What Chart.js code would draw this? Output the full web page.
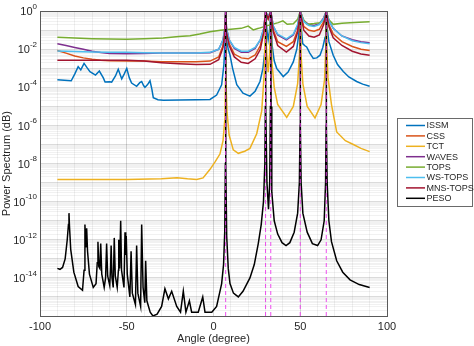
<!DOCTYPE html>
<html>
<head>
<meta charset="UTF-8">
<title>Power Spectrum vs Angle</title>
<script src="https://cdn.jsdelivr.net/npm/chart.js"></script>
<style>
  body { margin: 0; background: #fff; }
  canvas { display: block; }
</style>
</head>
<body>
<canvas id="specChart" width="474" height="346"></canvas>
<script>
// series names and MATLAB default colours
const seriesNames = ['ISSM', 'CSS', 'TCT', 'WAVES', 'TOPS', 'WS-TOPS', 'MNS-TOPS', 'PESO'];
const seriesColors = ['#0072BD', '#D95319', '#EDB120', '#7E2F8E', '#77AC30', '#4DBEEE', '#A2142F', '#000000'];
// true source angles (dashed magenta lines)
const trueAngles = [7, 30, 33, 50, 65];
// y tick labels: only even decades get a label (10^e)
const yLabelExps = [0, -2, -4, -6, -8, -10, -12, -14];
const xLabelValues = [-100, -50, 0, 50, 100];

// each point: [angle (degree), log10 of power]
const issm = [[-90,-3.6],[-86,-3.62],[-82,-3.65],[-80,-3.3],[-78,-2.91],[-76.5,-3.08],[-74.6,-2.74],[-73,-2.95],[-71.2,-3.17],[-68,-3.35],[-65.8,-3.14],[-63.5,-3.5],[-62.5,-3.72],[-60,-3.7],[-58.7,-3.72],[-56.5,-3.4],[-54.9,-3.05],[-53.5,-3.4],[-52.9,-3.55],[-51.5,-3.3],[-50,-3.0],[-48.5,-3.5],[-47.2,-3.77],[-44.3,-3.94],[-42.5,-3.75],[-41.4,-3.69],[-40.3,-3.9],[-39.5,-4.0],[-38,-3.85],[-36.6,-3.65],[-35.5,-4.1],[-34.7,-4.54],[-32,-4.65],[-28.9,-4.68],[-20,-4.66],[-10,-4.65],[-2,-4.63],[1.8,-4.4],[4.7,-3.86],[6,-2.8],[6.6,-1.7],[7,0],[7.5,-1.5],[8.5,-2.0],[9.5,-2.3],[11,-3.0],[13.4,-3.86],[17,-4.3],[21,-4.46],[24,-4.2],[26.8,-3.69],[28.5,-3.0],[29.7,-2.0],[30,0],[30.8,-1.0],[31.5,-1.5],[32.3,-1.0],[33,0],[33.8,-1.8],[35,-2.6],[36.4,-3.0],[40.2,-3.43],[43,-3.2],[46,-2.66],[48,-2.0],[48.9,-1.37],[49.6,-0.8],[50,0],[50.6,-0.9],[51.4,-1.7],[52.5,-1.8],[53.7,-1.88],[55.5,-2.2],[57.5,-2.48],[59.5,-2.45],[61.4,-2.31],[63,-1.9],[64.3,-1.37],[64.7,-0.8],[65,0],[65.4,-0.8],[66.5,-1.6],[69,-2.31],[71.5,-2.8],[74.8,-3.17],[78,-3.45],[82.5,-3.69],[86,-3.83],[90,-3.94]];

const css = [[-90,-2.06],[-85,-2.2],[-80,-2.35],[-75,-2.45],[-70,-2.52],[-65,-2.57],[-60,-2.6],[-50,-2.62],[-40,-2.62],[-30,-2.66],[-20,-2.66],[-10,-2.65],[-2,-2.62],[3,-2.4],[5.5,-1.8],[6.5,-1.0],[7,0],[7.5,-1.0],[9,-1.7],[12,-2.25],[16,-2.45],[20,-2.5],[24,-2.3],[27,-1.8],[29,-1.0],[30,0],[31.5,-0.4],[33,0],[34.5,-1.0],[37,-1.6],[42,-1.85],[46,-1.6],[48.5,-1.0],[50,0],[52,-0.8],[55,-1.0],[58,-1.05],[61,-0.95],[63.5,-0.55],[65,0],[66.5,-0.7],[69,-1.2],[74,-1.6],[80,-1.85],[85,-2.0],[90,-2.06]];

const tct = [[-90,-8.83],[-70,-8.84],[-50,-8.83],[-30,-8.8],[-21,-8.74],[-15,-8.8],[-9.7,-8.83],[-6,-8.75],[-2,-8.3],[1,-7.9],[3.7,-7.5],[5.5,-6.8],[6.6,-5.6],[6.9,-3.5],[7,0],[7.2,-3.5],[7.8,-5.3],[9,-6.5],[11.4,-7.28],[14.3,-7.46],[18,-7.35],[21,-7.2],[24.9,-6.43],[27.8,-5.23],[29.3,-3.2],[30,0],[30.6,-2.2],[31.5,-3.2],[32.4,-2.2],[33,0],[33.7,-2.7],[35,-4.0],[37,-4.9],[42.2,-5.57],[46,-5.0],[48.5,-3.8],[49.6,-2.2],[50,0],[50.4,-2.2],[51.5,-3.8],[54,-5.0],[58.5,-5.6],[62,-4.9],[64,-3.6],[64.7,-2.0],[65,0],[65.3,-2.0],[66,-3.5],[68,-4.9],[71,-6.34],[76,-6.8],[80.6,-7.0],[85,-7.2],[90,-7.37]];

const waves = [[-90,-1.71],[-85,-1.8],[-80,-1.9],[-75,-2.0],[-70,-2.1],[-65,-2.17],[-60,-2.22],[-50,-2.23],[-40,-2.22],[-30,-2.2],[-20,-2.2],[-10,-2.2],[-2,-2.18],[3,-2.0],[5.5,-1.5],[6.5,-0.9],[7,0],[7.5,-0.9],[9,-1.5],[12,-1.95],[16,-2.15],[20,-2.15],[24,-1.95],[27,-1.5],[29,-0.9],[30,0],[31.5,-0.3],[33,0],[34.5,-0.8],[37,-1.25],[42,-1.5],[46,-1.25],[48.5,-0.75],[50,0],[52,-0.5],[55,-0.7],[58,-0.75],[61,-0.65],[63.5,-0.35],[65,0],[66.5,-0.5],[69,-0.9],[74,-1.3],[80,-1.5],[85,-1.6],[90,-1.66]];

const tops = [[-90,-1.37],[-80,-1.41],[-70,-1.44],[-60,-1.46],[-50,-1.47],[-40,-1.45],[-29,-1.41],[-20,-1.33],[-13.5,-1.29],[-8,-1.2],[-2,-1.08],[4,-1.0],[10,-0.95],[16,-0.9],[20,-0.78],[22.9,-0.98],[26,-0.9],[30.6,-0.77],[34,-0.68],[37.3,-0.6],[40,-0.51],[42.5,-0.69],[46,-0.66],[48.5,-0.43],[50,0],[51.9,-0.45],[54,-0.69],[58,-0.65],[61.4,-0.6],[63.5,-0.45],[65,0],[66.5,-0.45],[69,-0.69],[74,-0.63],[78.7,-0.6],[84,-0.58],[90,-0.55]];

const wsTops = [[-90,-2.09],[-80,-2.12],[-70,-2.14],[-60,-2.15],[-50,-2.16],[-40,-2.18],[-30,-2.2],[-20,-2.2],[-10,-2.2],[-2,-2.16],[3,-2.0],[5.5,-1.5],[6.5,-0.9],[7,0],[7.5,-0.9],[9,-1.5],[12,-1.9],[16,-2.1],[20,-2.1],[24,-1.9],[27,-1.5],[29,-0.9],[30,0],[31.5,-0.3],[33,0],[34.5,-0.8],[37,-1.2],[42,-1.45],[46,-1.2],[48.5,-0.7],[50,0],[52,-0.55],[55,-0.75],[58,-0.8],[61,-0.7],[63.5,-0.4],[65,0],[66.5,-0.5],[69,-0.9],[74,-1.3],[80,-1.55],[85,-1.65],[90,-1.71]];

const mnsTops = [[-90,-2.57],[-70,-2.57],[-50,-2.58],[-40,-2.62],[-30,-2.7],[-20,-2.76],[-10,-2.8],[-2,-2.79],[3,-2.55],[5.5,-1.9],[6.5,-1.1],[7,0],[7.5,-1.1],[9,-1.8],[12,-2.4],[16,-2.68],[20,-2.74],[24,-2.5],[27,-2.0],[29,-1.1],[30,0],[31.5,-0.4],[33,0],[34.5,-1.1],[37,-1.8],[42,-2.15],[46,-1.85],[48.5,-1.1],[50,0],[52,-1.0],[55,-1.3],[58,-1.37],[61,-1.25],[63.5,-0.7],[65,0],[66.5,-0.8],[69,-1.4],[74,-1.8],[80,-2.1],[85,-2.25],[90,-2.31]];

const peso = [[-90,-13.5],[-88.5,-13.55],[-87,-13.45],[-85.5,-13.0],[-84.3,-12.0],[-83.6,-11.2],[-83.3,-10.6],[-83,-11.3],[-82.3,-12.5],[-80.5,-13.7],[-78,-14.45],[-75.5,-14.65],[-74.6,-13.6],[-74.1,-11.2],[-73.6,-12.4],[-73.1,-11.4],[-72.6,-12.6],[-71.5,-13.8],[-69.3,-14.5],[-67.7,-14.3],[-67,-13.2],[-66.6,-12.1],[-66.1,-13.4],[-65.5,-13.5],[-65,-12.2],[-64.4,-13.8],[-63,-14.5],[-62.2,-14.0],[-61.6,-12.2],[-61,-13.9],[-59.8,-14.4],[-59.3,-13.4],[-59,-12.3],[-58.5,-14.0],[-57.8,-14.5],[-57.2,-11.9],[-56.6,-13.9],[-55.5,-14.5],[-54.8,-13.6],[-54.6,-12.0],[-54.1,-13.5],[-53.5,-11.0],[-53,-13.6],[-51.6,-14.5],[-51,-11.6],[-50.6,-12.8],[-50.3,-11.8],[-49.7,-13.8],[-48.2,-15.0],[-47.5,-12.6],[-46.8,-14.8],[-45,-15.4],[-44.3,-12.3],[-43.6,-14.8],[-42,-15.5],[-41.4,-11.2],[-40.6,-14.5],[-39.6,-15.3],[-39.1,-13.1],[-38.4,-15.2],[-36.5,-15.8],[-34.9,-16.0],[-32.5,-15.9],[-29.9,-15.5],[-28,-14.57],[-26,-15.1],[-24.1,-14.7],[-21.2,-15.5],[-19,-15.8],[-17.4,-14.7],[-15.9,-15.8],[-13.9,-15.2],[-12.6,-15.8],[-8.8,-15.8],[-6.2,-15.0],[-4.9,-15.8],[-1,-15.8],[1.8,-15.5],[4.7,-14.3],[5.8,-13.3],[6.5,-11.5],[6.85,-8],[7,0],[7.15,-8],[7.6,-11.8],[8.5,-13.5],[9.5,-14.3],[11.5,-14.8],[14.3,-15.0],[17,-14.7],[21,-14.0],[23.5,-13.3],[25.8,-12.2],[27.5,-11.2],[28.8,-10.0],[29.6,-8.0],[29.9,-5],[30,0],[30.2,-5],[30.8,-9],[31.7,-10.4],[32.4,-9],[32.8,-5],[33,0],[33.2,-5],[33.6,-9.5],[35,-11.0],[37,-11.7],[39.5,-12.15],[41.8,-12.3],[44,-12.15],[46.5,-11.6],[48.5,-10.6],[49.5,-9],[49.9,-6],[50,0],[50.1,-6],[50.5,-9],[51.5,-10.6],[54,-11.6],[57,-12.2],[60,-12.3],[62,-12.0],[63.8,-11],[64.6,-9],[64.9,-6],[65,0],[65.1,-6],[65.5,-9],[66.5,-11],[68,-12.1],[71,-13.1],[74.5,-13.7],[78.7,-14.1],[84,-14.35],[90,-14.5]];

const seriesData = [issm, css, tct, waves, tops, wsTops, mnsTops, peso];

const FONT = "'Liberation Sans', 'DejaVu Sans', Arial, sans-serif";
const TEXT = '#262626';

// series datasets (later MATLAB lines sit on top, so lower order)
const datasets = seriesData.map((pts, i) => ({
  label: seriesNames[i],
  data: pts.map(p => ({x: p[0], y: Math.pow(10, p[1])})),
  borderColor: seriesColors[i],
  backgroundColor: seriesColors[i],
  borderWidth: 1.5,
  pointRadius: 0,
  tension: 0,
  order: 20 - i
}));

// dashed magenta markers at the true angles
trueAngles.forEach(a => {
  datasets.push({
    label: 'true',
    data: [{x: a, y: 1e-16}, {x: a, y: 1}],
    borderColor: 'rgba(235,60,235,0.9)',
    borderWidth: 1,
    borderDash: [4, 3],
    pointRadius: 0,
    order: 0
  });
});

function isDecade(v) {
  const e = Math.round(Math.log10(v));
  return Math.abs(v / Math.pow(10, e) - 1) < 1e-6;
}

// box around plot, 10^n labels with superscripts, MATLAB-style legend
const boxAndLegend = {
  id: 'boxAndLegend',
  afterDraw(chart) {
    const {ctx, chartArea: a} = chart;
    const ys = chart.scales.y;
    ctx.save();
    ctx.strokeStyle = '#5a5a5a';
    ctx.lineWidth = 1;
    ctx.strokeRect(Math.round(a.left) + 0.5, Math.round(a.top) + 0.5,
                   Math.round(a.right - a.left), Math.round(a.bottom - a.top));

    // y tick labels
    ctx.fillStyle = TEXT;
    ctx.textAlign = 'right';
    ctx.textBaseline = 'middle';
    yLabelExps.forEach(e => {
      const y = ys.getPixelForValue(Math.pow(10, e));
      const sup = String(e);
      ctx.font = '8px ' + FONT;
      const sw = ctx.measureText(sup).width;
      const right = a.left - 3;
      ctx.fillText(sup, right, y - 4.5);
      ctx.font = '11px ' + FONT;
      ctx.fillText('10', right - sw, y + 1);
    });

    // legend
    const bx = 397, by = 118, bw = 75, bh = 88, step = 10.4;
    ctx.fillStyle = '#fff';
    ctx.fillRect(bx, by, bw, bh);
    ctx.strokeStyle = '#6a6a6a';
    ctx.lineWidth = 1;
    ctx.strokeRect(bx + 0.5, by + 0.5, bw, bh);
    ctx.font = '9px ' + FONT;
    ctx.textBaseline = 'middle';
    ctx.textAlign = 'left';
    seriesNames.forEach((name, i) => {
      const y = by + 7.5 + i * step;
      ctx.strokeStyle = seriesColors[i];
      ctx.lineWidth = 1.5;
      ctx.beginPath();
      ctx.moveTo(bx + 9, y);
      ctx.lineTo(bx + 28, y);
      ctx.stroke();
      ctx.fillStyle = TEXT;
      ctx.fillText(name, bx + 29.5, y + 0.5);
    });
    ctx.restore();
  }
};

new Chart(document.getElementById('specChart'), {
  type: 'line',
  data: {datasets},
  options: {
    responsive: false,
    devicePixelRatio: 1,
    animation: false,
    layout: {padding: {top: 5, right: 87, left: 0, bottom: 0}},
    plugins: {legend: {display: false}, tooltip: {enabled: false}},
    scales: {
      x: {
        type: 'linear',
        min: -100, max: 100,
        afterFit(s) { s.height = 30; },
        afterBuildTicks(s) {
          const t = [];
          for (let v = -100; v <= 100; v += 10) t.push({value: v});
          s.ticks = t;
        },
        ticks: {
          autoSkip: false, maxRotation: 0, padding: 4,
          color: TEXT, font: {family: FONT, size: 11},
          callback: v => xLabelValues.includes(v) ? String(v) : ''
        },
        grid: {
          drawTicks: false,
          color: c => (c.tick && c.tick.value % 50 === 0) ? 'rgba(0,0,0,0.16)' : 'rgba(0,0,0,0.06)'
        },
        border: {display: false},
        title: {display: true, text: 'Angle (degree)', color: TEXT,
                font: {family: FONT, size: 11}, padding: {top: 0, bottom: 0}}
      },
      y: {
        type: 'logarithmic',
        min: 1e-16, max: 1,
        afterFit(s) { s.width = 40; },
        afterBuildTicks(s) {
          const t = [];
          for (let e = -16; e <= 0; e++) {
            for (let m = 1; m <= 9; m++) {
              const v = m * Math.pow(10, e);
              if (v <= 1) t.push({value: v});
            }
          }
          s.ticks = t;
        },
        ticks: {
          autoSkip: false, padding: 4,
          callback: () => ''
        },
        grid: {
          drawTicks: false,
          color: c => isDecade(c.tick ? c.tick.value : 1) ? 'rgba(0,0,0,0.14)' : 'rgba(0,0,0,0.055)'
        },
        border: {display: false},
        title: {display: true, text: 'Power Spectrum (dB)', color: TEXT,
                font: {family: FONT, size: 11}, padding: {top: 0, bottom: 0}}
      }
    }
  },
  plugins: [boxAndLegend]
});
</script>
</body>
</html>
